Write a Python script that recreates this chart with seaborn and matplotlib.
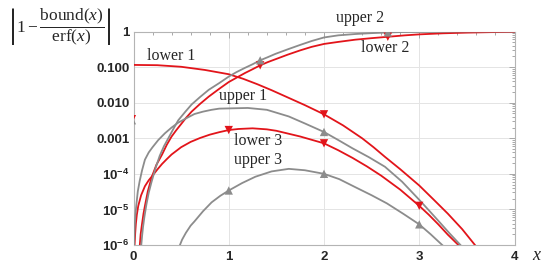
import numpy as np
import pandas as pd
import matplotlib
matplotlib.use("Agg")
import matplotlib.pyplot as plt
from matplotlib.ticker import FixedLocator, MultipleLocator, LogLocator, NullFormatter
import seaborn as sns

# ---------------- data ----------------
lower1_x = [0.0, 0.25, 0.5, 0.75, 1.0, 1.15, 1.3, 1.45, 1.6, 1.8, 2.0, 2.2, 2.4, 2.52, 2.64,
            2.8, 3.0, 3.15, 3.3, 3.45, 3.6]
lower1_y = [0.115, 0.113, 0.102, 0.083, 0.063, 0.047, 0.033, 0.0224, 0.0148, 0.0085, 0.0047,
            0.0023, 0.001, 5.6e-4, 3.0e-4, 1.35e-4, 4.7e-5, 1.9e-5, 7.6e-6, 2.8e-6, 8.9e-7]

lower2_x = [0.065, 0.075, 0.09, 0.105, 0.12, 0.15, 0.19, 0.24, 0.3, 0.35, 0.4, 0.45, 0.5, 0.55,
            0.61, 0.7, 0.79, 0.9, 1.0, 1.08, 1.17, 1.25, 1.33, 1.41, 1.49, 1.62, 1.75, 1.87,
            2.0, 2.15, 2.33, 2.5, 2.67, 2.85, 3.0, 3.25, 3.5, 3.75, 4.0]
lower2_y = [8.9e-7, 2.0e-6, 4.0e-6, 7.6e-6, 1.26e-5, 3.2e-5, 7.9e-5, 1.78e-4, 3.5e-4, 6.6e-4,
            1.12e-3, 1.7e-3, 2.5e-3, 3.7e-3, 5.6e-3, 9.3e-3, 0.0148, 0.0245, 0.038, 0.050,
            0.068, 0.087, 0.112, 0.138, 0.166, 0.224, 0.295, 0.37, 0.447, 0.51, 0.59, 0.65,
            0.71, 0.78, 0.83, 0.89, 0.93, 0.96, 0.98]

lower3_x = [0.01, 0.018, 0.025, 0.035, 0.05, 0.08, 0.12, 0.16, 0.2, 0.25, 0.3, 0.35, 0.4, 0.5,
            0.6, 0.7, 0.8, 0.9, 1.0, 1.1, 1.25, 1.4, 1.5, 1.75, 2.0, 2.15, 2.3, 2.45, 2.6,
            2.8, 3.0, 3.1, 3.2, 3.3, 3.43]
lower3_y = [8.9e-7, 2.2e-6, 4.0e-6, 7.1e-6, 1.26e-5, 2.5e-5, 4.5e-5, 6.6e-5, 8.9e-5, 1.32e-4,
            1.9e-4, 2.6e-4, 3.5e-4, 5.6e-4, 7.9e-4, 1.02e-3, 1.26e-3, 1.48e-3, 1.7e-3,
            1.82e-3, 1.9e-3, 1.78e-3, 1.62e-3, 1.12e-3, 7.2e-4, 4.6e-4, 2.8e-4, 1.62e-4,
            8.9e-5, 3.6e-5, 1.26e-5, 7.1e-6, 3.8e-6, 1.95e-6, 8.9e-7]

upper1_x = [0.005, 0.012, 0.02, 0.03, 0.045, 0.065, 0.09, 0.12, 0.16, 0.2, 0.26, 0.33, 0.4,
            0.47, 0.55, 0.64, 0.73, 0.82, 0.9, 1.0, 1.2, 1.4, 1.63, 1.8, 2.0, 2.15, 2.3,
            2.47, 2.64, 2.82, 3.0, 3.1, 3.2, 3.32, 3.45]
upper1_y = [8.9e-7, 3.2e-6, 7.1e-6, 1.35e-5, 3.2e-5, 6.3e-5, 1.26e-4, 2.5e-4, 4.0e-4, 5.6e-4,
            8.9e-4, 1.38e-3, 2.0e-3, 2.75e-3, 3.6e-3, 4.8e-3, 5.6e-3, 6.3e-3, 6.8e-3, 6.9e-3,
            7.1e-3, 6.3e-3, 4.1e-3, 2.6e-3, 1.5e-3, 8.9e-4, 5.2e-4, 2.95e-4, 1.58e-4, 6.0e-5,
            1.86e-5, 9.5e-6, 4.8e-6, 2.1e-6, 8.9e-7]

upper2_x = [0.08, 0.09, 0.1, 0.115, 0.135, 0.16, 0.19, 0.23, 0.275, 0.32, 0.37, 0.42, 0.47,
            0.54, 0.61, 0.7, 0.79, 0.9, 1.0, 1.08, 1.17, 1.25, 1.33, 1.41, 1.49, 1.62, 1.75,
            1.87, 2.0, 2.15, 2.33, 2.5, 2.67, 2.85, 3.0, 3.5, 4.0]
upper2_y = [8.9e-7, 1.78e-6, 3.2e-6, 6.3e-6, 1.35e-5, 2.95e-5, 6.0e-5, 1.41e-4, 3.2e-4, 6.0e-4,
            1.05e-3, 1.86e-3, 3.2e-3, 5.4e-3, 8.9e-3, 0.0145, 0.023, 0.0355, 0.054, 0.072,
            0.095, 0.12, 0.155, 0.19, 0.235, 0.316, 0.42, 0.54, 0.68, 0.78, 0.85, 0.90, 0.94,
            0.973, 0.986, 1.0, 1.0]

upper3_x = [0.48, 0.51, 0.55, 0.6, 0.64, 0.73, 0.82, 0.91, 1.0, 1.14, 1.28, 1.45, 1.63, 1.8,
            2.0, 2.16, 2.33, 2.5, 2.66, 2.83, 3.0, 3.12, 3.25]
upper3_y = [8.9e-7, 1.41e-6, 2.2e-6, 3.5e-6, 4.6e-6, 8.9e-6, 1.58e-5, 2.4e-5, 3.4e-5, 5.5e-5,
            8.3e-5, 1.17e-4, 1.38e-4, 1.26e-4, 1.0e-4, 7.1e-5, 4.2e-5, 2.5e-5, 1.48e-5,
            7.6e-6, 3.8e-6, 2.0e-6, 9.5e-7]

# marker points
lower_mk_x = [2.0, 1.33, 2.67, 1.0, 2.0, 3.0]
lower_mk_y = [4.7e-3, 0.112, 0.71, 1.7e-3, 7.2e-4, 1.26e-5]
upper_mk_x = [2.0, 1.33, 2.67, 1.0, 2.0, 3.0]
upper_mk_y = [1.5e-3, 0.155, 0.94, 3.4e-5, 1.0e-4, 3.8e-6]
edge_mk_x = [0.0, 0.0]
edge_mk_y = [3.8e-3, 2.9e-3]
edge_mk_kind = ["lower", "upper"]

curve_labels = ["lower 1", "upper 1", "lower 3", "upper 3", "upper 2", "lower 2"]
label_x = [0.40, 1.15, 1.31, 1.31, 2.38, 2.64]
label_y = [0.205, 0.0152, 8.6e-4, 2.45e-4, 2.4, 0.34]

x_ticks = [0, 1, 2, 3, 4]
x_ticklabels = ["0", "1", "2", "3", "4"]
y_ticks = [1e-6, 1e-5, 1e-4, 1e-3, 1e-2, 1e-1, 1]
y_ticklabels = [r"$\mathbf{10^{-6}}$", r"$\mathbf{10^{-5}}$", r"$\mathbf{10^{-4}}$",
                "0.001", "0.010", "0.100", "1"]

RED = "#E2141A"
GRAY = "#8C8C8C"

# ---------------- build tables ----------------
curves = {
    "lower 1": (lower1_x, lower1_y), "lower 2": (lower2_x, lower2_y),
    "lower 3": (lower3_x, lower3_y), "upper 1": (upper1_x, upper1_y),
    "upper 2": (upper2_x, upper2_y), "upper 3": (upper3_x, upper3_y),
}
rows = []
for name, (xs, ys) in curves.items():
    for xv, yv in zip(xs, ys):
        rows.append({"x": xv, "value": yv, "curve": name})
df = pd.DataFrame(rows)
palette = {n: (RED if n.startswith("lower") else GRAY) for n in curves}

mk = pd.DataFrame({
    "x": lower_mk_x + upper_mk_x,
    "value": lower_mk_y + upper_mk_y,
    "kind": ["lower"] * len(lower_mk_x) + ["upper"] * len(upper_mk_x),
})
edge = pd.DataFrame({"x": edge_mk_x, "value": edge_mk_y, "kind": edge_mk_kind})
kind_pal = {"lower": RED, "upper": GRAY}
kind_mk = {"lower": "v", "upper": "^"}

# ---------------- plot ----------------
sns.set_style("white")
plt.rcParams["mathtext.fontset"] = "custom"
plt.rcParams["mathtext.rm"] = "Liberation Serif"
plt.rcParams["mathtext.it"] = "Liberation Serif:italic"
plt.rcParams["mathtext.bf"] = "Liberation Sans:bold"
plt.rcParams["font.family"] = ["Liberation Sans", "DejaVu Sans"]

fig = plt.figure(figsize=(5.5, 2.69), dpi=100)
ax = fig.add_axes([133.5 / 550, 1 - 245 / 269, (514.5 - 133.5) / 550, (245 - 31.5) / 269])

ax.set_yscale("log")
sns.lineplot(data=df, x="x", y="value", hue="curve", palette=palette, estimator=None,
             sort=False, units="curve", legend=False, linewidth=1.3, ax=ax, zorder=3)
sns.scatterplot(data=mk, x="x", y="value", hue="kind", style="kind", palette=kind_pal,
                markers=kind_mk, s=36, linewidth=0, legend=False, ax=ax, zorder=4)
sns.scatterplot(data=edge, x="x", y="value", hue="kind", style="kind", palette=kind_pal,
                markers=kind_mk, s=14, linewidth=0, legend=False, ax=ax, zorder=4)

ax.set_xlim(0, 4)
ax.set_ylim(1e-6, 1)
ax.set_xlabel("")
ax.set_ylabel("")

ax.xaxis.set_major_locator(FixedLocator(x_ticks))
ax.set_xticklabels(x_ticklabels)
ax.xaxis.set_minor_locator(MultipleLocator(0.2))
ax.yaxis.set_major_locator(FixedLocator(y_ticks))
ax.set_yticklabels(y_ticklabels)
ax.yaxis.set_minor_locator(LogLocator(base=10, subs=np.arange(2, 10)))
ax.yaxis.set_minor_formatter(NullFormatter())

for lab in ax.get_xticklabels() + ax.get_yticklabels():
    lab.set_fontweight("bold")
    lab.set_fontsize(9.5)
    lab.set_fontfamily("Liberation Sans")

ax.tick_params(which="both", direction="in", top=True, right=True, color="#A8A8A8", width=0.7)
ax.tick_params(which="major", length=4, pad=3)
ax.tick_params(which="minor", length=2)
ax.tick_params(axis="x", which="major", pad=4)

for sp in ax.spines.values():
    sp.set_color("#B4B4B4")
    sp.set_linewidth(0.8)

ax.grid(True, which="major", color="#E4E4E4", linewidth=0.7)
ax.set_axisbelow(True)

for t, xv, yv in zip(curve_labels, label_x, label_y):
    ax.text(xv, yv, t, ha="center", va="center", fontsize=11.5,
            family="Liberation Serif", zorder=5, clip_on=False)

fig.text(537 / 550, 1 - 256 / 269, r"$x$", fontsize=13, ha="center", va="center")
fig.text(8 / 550, 1 - 27 / 269,
         r"$\left|1-\dfrac{\mathrm{bound}(x)}{\mathrm{erf}(x)}\right|$",
         fontsize=12.5, ha="left", va="center")

fig.savefig("out.png", dpi=100)
